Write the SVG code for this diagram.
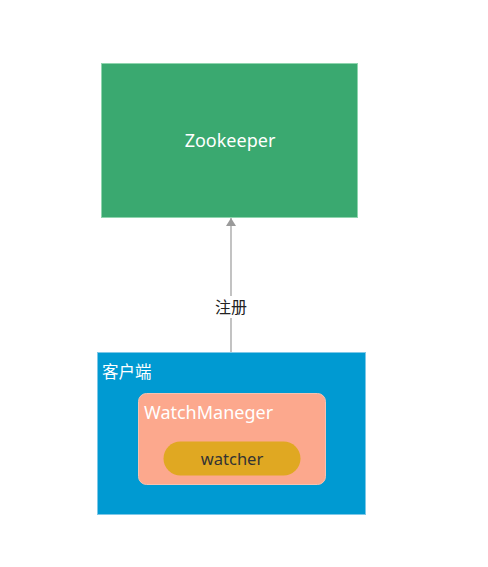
<svg xmlns="http://www.w3.org/2000/svg" width="488" height="567" viewBox="0 0 488 567">
<defs>
<style>
text{font-family:"Noto Sans","Noto Sans CJK SC",sans-serif;}
.w{fill:#ffffff;}
.edge{stroke:#9a9a9a;stroke-width:1.2;fill:none;}
</style>
<marker id="ah" markerWidth="10" markerHeight="10" refX="8" refY="5" orient="auto" markerUnits="userSpaceOnUse" viewBox="0 0 10 10">
<path d="M0,0 L8,5 L0,10 Z" fill="#9a9a9a"/>
</marker>
</defs>
<rect width="488" height="567" fill="#ffffff"/>
<g id="zookeeper">
<rect x="101.5" y="63.5" width="256" height="154" fill="#3aa970" stroke="#8fd5ae" stroke-width="1"/>
<text class="w" x="230" y="147" font-size="18" text-anchor="middle">Zookeeper</text>
</g>
<g id="connectors">
<line class="edge" x1="231" y1="352" x2="231" y2="318"/>
<line class="edge" x1="231" y1="296" x2="231" y2="218" marker-end="url(#ah)"/>
<text x="231" y="313" font-size="16" text-anchor="middle" fill="#222222">注册</text>
</g>
<g id="client">
<rect x="97.5" y="352.5" width="268" height="162" fill="#009ad2" stroke="#7ec8e8" stroke-width="1"/>
<text class="w" x="102" y="378" font-size="16.5">客户端</text>
</g>
<g id="watchmanager">
<rect x="138.5" y="393.5" width="187" height="91" rx="8" fill="#fca88d" stroke="#f4c2b0" stroke-width="1"/>
<text class="w" x="144" y="419" font-size="18">WatchManeger</text>
</g>
<g id="watcher">
<rect x="163.5" y="441.5" width="137" height="34" rx="17" fill="#e0a822"/>
<text x="232" y="465" font-size="16.5" text-anchor="middle" fill="#333333">watcher</text>
</g>
</svg>
